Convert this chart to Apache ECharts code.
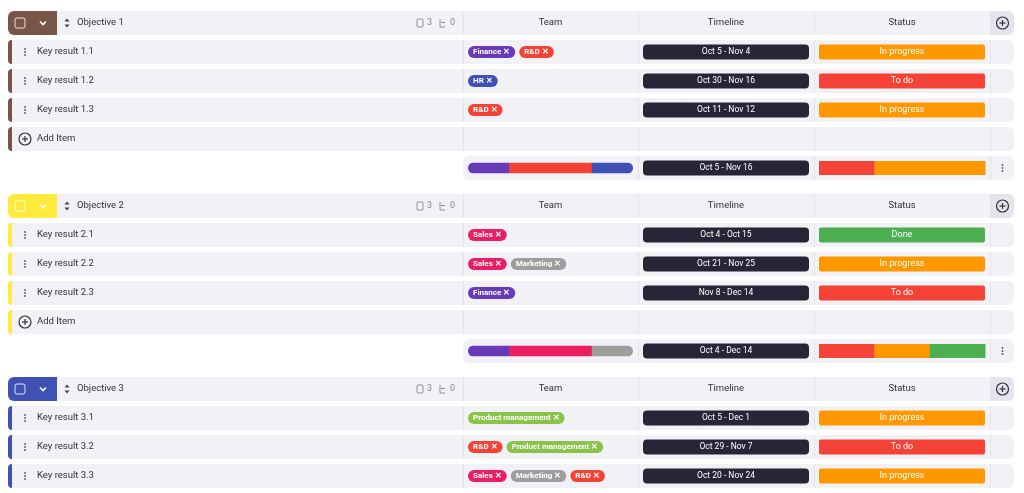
<!DOCTYPE html>
<html><head><meta charset="utf-8">
<script src="https://cdn.jsdelivr.net/npm/echarts@6/dist/echarts.min.js"></script>
<style>html,body{margin:0;padding:0;background:#fff}#c{width:1024px;height:493px}</style>
</head><body><div id="c"></div>
<script>
const objectives = ['Objective 1','Objective 2','Objective 3'];
const objectiveColors = ['#795548','#ffeb3b','#3f51b5'];
const keyResults = [['Key result 1.1','Key result 1.2','Key result 1.3'],['Key result 2.1','Key result 2.2','Key result 2.3'],['Key result 3.1','Key result 3.2','Key result 3.3']];
const teams = [[['Finance','R&D'],['HR'],['R&D']],[['Sales'],['Sales','Marketing'],['Finance']],[['Product management'],['R&D','Product management'],['Sales','Marketing','R&D']]];
const timelines = [['Oct 5 - Nov 4','Oct 30 - Nov 16','Oct 11 - Nov 12'],['Oct 4 - Oct 15','Oct 21 - Nov 25','Nov 8 - Dec 14'],['Oct 5 - Dec 1','Oct 29 - Nov 7','Oct 20 - Nov 24']];
const summaryTimelines = ['Oct 5 - Nov 16','Oct 4 - Dec 14','Oct 5 - Dec 14'];
const statuses = [['In progress','To do','In progress'],['Done','In progress','To do'],['In progress','To do','In progress']];
const teamColors = {'Finance':'#673ab7','R&D':'#f44336','HR':'#3f51b5','Sales':'#e91e63','Marketing':'#9e9e9e','Product management':'#8bc34a'};
const statusColors = {'In progress':'#ff9800','To do':'#f44336','Done':'#4caf50'};
const statusOrder = ['To do','In progress','Done'];

// layout
const GROUP_TOP = 11, GROUP_STEP = 183, ROW_STEP = 29, ROW_H = 24;
const COL = {left:8, team:463, time:638, status:814, plus:990, right:1014};
const FONT = 'Roboto, "Noto Sans", sans-serif';
const BG = '#f1f1f6', LINE = '#e3e3ea', TXT = '#333';

const cvs = document.createElement('canvas').getContext('2d');
function tw(t, size, weight){ cvs.font = (weight||'normal')+' '+size+'px '+FONT; return cvs.measureText(t).width; }

// flat row list
const rows = [];
objectives.forEach((o,g)=>{
  rows.push({kind:'header', g, slot:0});
  keyResults[g].forEach((k,i)=>rows.push({kind:'item', g, i, slot:i+1}));
  rows.push({kind:'add', g, slot:4});
  rows.push({kind:'summary', g, slot:5});
});
const data = rows.map((r,idx)=>[idx, GROUP_TOP + r.g*GROUP_STEP + r.slot*ROW_STEP]);

function txt(x,y,t,o){ return {type:'text', style:Object.assign({x,y,text:t,fill:TXT,font:'10px '+FONT,align:'left',verticalAlign:'middle'},o||{})}; }
function rect(x,y,w,h,fill,r){ return {type:'rect', shape:{x,y,width:w,height:h,r:r||0}, style:{fill}}; }
function plusCircle(cx,cy,rad){ return [
  {type:'circle', shape:{cx,cy,r:rad}, style:{fill:'none',stroke:'#333',lineWidth:1.2}},
  {type:'line', shape:{x1:cx-rad*0.5,y1:cy,x2:cx+rad*0.5,y2:cy}, style:{stroke:'#333',lineWidth:1.2}},
  {type:'line', shape:{x1:cx,y1:cy-rad*0.5,x2:cx,y2:cy+rad*0.5}, style:{stroke:'#333',lineWidth:1.2}}]; }
function dots(cx,cy){ return [-3,0,3].map(d=>({type:'circle',shape:{cx,cy:cy+d,r:0.9},style:{fill:'#555'}})); }

function renderItem(params, api){
  const r = rows[api.value(0)];
  const top = api.coord([0, api.value(1)])[1];
  const X = x => api.coord([x, 0])[0];
  const y0 = top, h = ROW_H, cy = top + h/2;
  const col = objectiveColors[r.g];
  const ch = [];
  const seps = () => [COL.team, COL.time, COL.status, COL.plus].forEach(x=>ch.push(rect(X(x), y0, 1, h, LINE)));
  if (r.kind === 'header'){
    ch.push(rect(X(COL.left), y0, X(COL.right)-X(COL.left), h, BG, 6));
    ch.push(rect(X(COL.plus), y0, X(COL.right)-X(COL.plus), h, '#e4e4ec', [0,6,6,0]));
    ch.push(rect(X(COL.left), y0, X(57)-X(COL.left), h, col, [6,0,0,6]));
    ch.push({type:'rect', shape:{x:X(15),y:cy-5,width:10,height:10,r:2}, style:{fill:'none',stroke:'rgba(255,255,255,0.85)',lineWidth:1}});
    ch.push({type:'polyline', shape:{points:[[X(40),cy-1.5],[X(43),cy+1.5],[X(46),cy-1.5]]}, style:{stroke:'#fff',lineWidth:1.6,fill:'none'}});
    ch.push({type:'polygon', shape:{points:[[X(67),cy-4.5],[X(69.5),cy-1.5],[X(64.5),cy-1.5]]}, style:{fill:'#444'}});
    ch.push({type:'polygon', shape:{points:[[X(67),cy+4.5],[X(69.5),cy+1.5],[X(64.5),cy+1.5]]}, style:{fill:'#444'}});
    ch.push(txt(X(77), cy, objectives[r.g], {font:'9.5px '+FONT}));
    ch.push({type:'rect', shape:{x:X(417),y:cy-4,width:6,height:8,r:1}, style:{fill:'none',stroke:'#888',lineWidth:0.9}});
    ch.push(txt(X(427), cy, '3', {fill:'#888', font:'9px '+FONT}));
    ch.push({type:'polyline', shape:{points:[[X(440),cy-4],[X(440),cy+4],[X(445),cy+4]]}, style:{stroke:'#888',lineWidth:0.9,fill:'none'}});
    ch.push(rect(X(441),cy-1,4,1,'#888'));
    ch.push(txt(X(450), cy, '0', {fill:'#888', font:'9px '+FONT}));
    [COL.team, COL.time, COL.status].forEach(x=>ch.push(rect(X(x), y0, 1, h, LINE)));
    ch.push(txt((X(COL.team)+X(COL.time))/2, cy, 'Team', {align:'center', font:'9.5px '+FONT}));
    ch.push(txt((X(COL.time)+X(COL.status))/2, cy, 'Timeline', {align:'center', font:'9.5px '+FONT}));
    ch.push(txt((X(COL.status)+X(COL.plus))/2, cy, 'Status', {align:'center', font:'9.5px '+FONT}));
    ch.push(...plusCircle((X(COL.plus)+X(COL.right))/2+0.5, cy, 6));
  } else if (r.kind === 'item' || r.kind === 'add'){
    ch.push(rect(X(COL.left), y0, X(COL.right)-X(COL.left), h, BG, 6));
    ch.push(rect(X(COL.left), y0, 4, h, col, [4,0,0,4]));
    seps();
    if (r.kind === 'add'){
      ch.push(...plusCircle(X(25), cy, 6));
      ch.push(txt(X(37), cy, 'Add Item', {font:'9.5px '+FONT}));
    } else {
      ch.push(...dots(X(25), cy));
      ch.push(txt(X(37), cy, keyResults[r.g][r.i], {font:'9.5px '+FONT}));
      let tx = X(468);
      teams[r.g][r.i].forEach(t=>{
        const label = t + ' ✕';
        const w = tw(label, 8, 'bold') + 10;
        ch.push(rect(tx, cy-6, w, 12, teamColors[t], 6));
        ch.push(txt(tx+5, cy, label, {fill:'#fff', font:'bold 8px '+FONT}));
        tx += w + 4;
      });
      ch.push(rect(X(643), cy-7.5, X(809)-X(643), 15, '#262637', 4));
      ch.push(txt((X(643)+X(809))/2, cy, timelines[r.g][r.i], {fill:'#fff', font:'8.5px '+FONT, align:'center'}));
      const s = statuses[r.g][r.i];
      ch.push(rect(X(819), cy-7.5, X(985)-X(819), 15, statusColors[s], 2));
      ch.push(txt((X(819)+X(985))/2, cy, s, {fill:'#fff', font:'9px '+FONT, align:'center'}));
    }
  } else {
    ch.push(rect(X(COL.team), y0, X(COL.right)-X(COL.team), h, BG, 6));
    [COL.time, COL.status, COL.plus].forEach(x=>ch.push(rect(X(x), y0, 1, h, LINE)));
    // team composition
    const all = teams[r.g].flat();
    const order = [];
    all.forEach(t=>{ if(!order.includes(t)) order.push(t); });
    const counts = order.map(t=>all.filter(u=>u===t).length);
    // sort by first-appearance overall palette order for consistency
    const seq = Object.keys(teamColors).filter(t=>order.includes(t));
    const tot = all.length, bx0 = X(468), bw = X(633)-X(468);
    const barSegs = [];
    let acc = 0;
    seq.forEach(t=>{ const c = all.filter(u=>u===t).length; barSegs.push({x:bx0+bw*acc/tot, w:bw*c/tot, fill:teamColors[t]}); acc+=c; });
    ch.push({type:'group', clipPath:{type:'rect', shape:{x:bx0,y:cy-5.5,width:bw,height:11,r:5.5}},
      children: barSegs.map(s=>rect(s.x, cy-5.5, s.w+0.5, 11, s.fill))});
    ch.push(rect(X(643), cy-7.5, X(809)-X(643), 15, '#262637', 4));
    ch.push(txt((X(643)+X(809))/2, cy, summaryTimelines[r.g], {fill:'#fff', font:'8.5px '+FONT, align:'center'}));
    const st = statuses[r.g];
    const sx0 = X(819), sw = X(985)-X(819);
    let a2 = 0;
    statusOrder.forEach(s=>{ const c = st.filter(u=>u===s).length; if(c){ ch.push(rect(sx0+sw*a2/st.length, cy-7, sw*c/st.length+0.5, 14, statusColors[s])); a2+=c; } });
    ch.push(...dots((X(COL.plus)+X(COL.right))/2+0.5, cy));
  }
  return {type:'group', children:ch};
}

const chart = echarts.init(document.getElementById('c'));
chart.setOption({
  animation:false,
  grid:{left:0,right:0,top:0,bottom:0},
  xAxis:{type:'value',min:0,max:1024,show:false},
  yAxis:{type:'value',min:0,max:493,inverse:true,show:false},
  series:[{type:'custom', renderItem, data, clip:false, encode:{x:0,y:1}}]
});
</script></body></html>
